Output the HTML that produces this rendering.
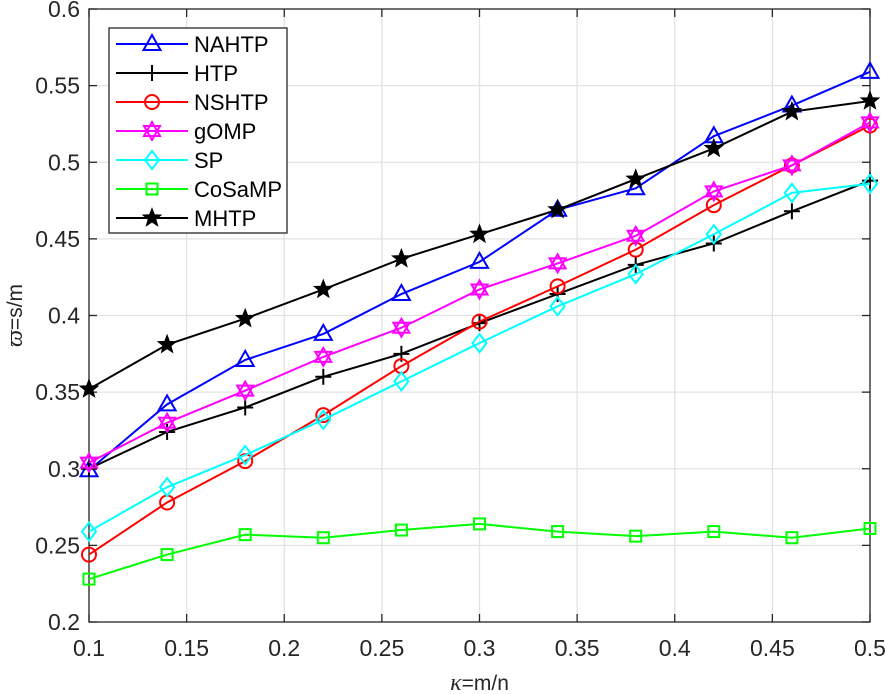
<!DOCTYPE html>
<html><head><meta charset="utf-8"><style>
html,body{margin:0;padding:0;background:#fff;}
svg{display:block;font-family:"Liberation Sans",sans-serif;}
</style></head><body>
<svg id="chart" width="885" height="694" xmlns="http://www.w3.org/2000/svg"></svg>
<script>
const xVals=[0.1,0.14,0.18,0.22,0.26,0.3,0.34,0.38,0.42,0.46,0.5];
const xTicks=[0.1,0.15,0.2,0.25,0.3,0.35,0.4,0.45,0.5];
const yTicks=[0.2,0.25,0.3,0.35,0.4,0.45,0.5,0.55,0.6];
const seriesNames=["NAHTP","HTP","NSHTP","gOMP","SP","CoSaMP","MHTP"];
const nahtp=[.299,.342,.371,.388,.414,.435,.469,.483,.517,.537,.559];
const htp=[.300,.324,.340,.360,.375,.395,.414,.433,.447,.468,.488];
const nshtp=[.244,.278,.305,.335,.367,.396,.419,.443,.472,.498,.524];
const gomp=[.304,.330,.351,.373,.392,.417,.434,.452,.481,.498,.526];
const sp=[.259,.288,.309,.332,.357,.382,.406,.427,.453,.480,.486];
const cosamp=[.228,.244,.257,.255,.260,.264,.259,.256,.259,.255,.261];
const mhtp=[.352,.381,.398,.417,.437,.453,.469,.489,.509,.533,.540];

const NS="http://www.w3.org/2000/svg";
const svg=document.getElementById('chart');
const L=89,R=870,T=9,B=622;
const xs=v=>L+(v-0.1)/0.4*(R-L);
const ys=v=>B-(v-0.2)/0.4*(B-T);
function mk(tag,attrs,parent){const e=document.createElementNS(NS,tag);for(const k in attrs)e.setAttribute(k,attrs[k]);(parent||svg).appendChild(e);return e;}

const grid=mk('g',{});


xTicks.forEach(t=>{mk('line',{x1:xs(t),x2:xs(t),y1:T,y2:B,stroke:'#e3e3e3','stroke-width':1.3},grid);});
yTicks.forEach(t=>{mk('line',{x1:L,x2:R,y1:ys(t),y2:ys(t),stroke:'#e3e3e3','stroke-width':1.3},grid);});

const axes=mk('g',{});


mk('rect',{x:L,y:T,width:R-L,height:B-T,fill:'none',stroke:'#262626','stroke-width':1.3},axes);
xTicks.forEach(t=>{
 mk('line',{x1:xs(t),x2:xs(t),y1:B,y2:B-8,stroke:'#262626','stroke-width':1.3},axes);
 mk('line',{x1:xs(t),x2:xs(t),y1:T,y2:T+8,stroke:'#262626','stroke-width':1.3},axes);
 const tx=mk('text',{x:xs(t),y:B+34,'text-anchor':'middle','font-size':23,fill:'#262626'},axes);
 tx.textContent=String(t);
 
 
});
yTicks.forEach(t=>{
 mk('line',{x1:L,x2:L+8,y1:ys(t),y2:ys(t),stroke:'#262626','stroke-width':1.3},axes);
 mk('line',{x1:R,x2:R-8,y1:ys(t),y2:ys(t),stroke:'#262626','stroke-width':1.3},axes);
 const tx=mk('text',{x:L-9,y:ys(t)+8,'text-anchor':'end','font-size':23,fill:'#262626'},axes);
 tx.textContent=String(t);
 
 
});
const xl=mk('text',{x:(L+R)/2,y:690,'text-anchor':'middle','font-size':21,fill:'#262626'});
xl.innerHTML='<tspan font-family="Liberation Serif" font-style="italic" font-size="24">κ</tspan>=m/n';


const yl=mk('text',{x:0,y:0,transform:'translate(22,'+((T+B)/2)+') rotate(-90)','text-anchor':'middle','font-size':21,fill:'#262626'});
yl.innerHTML='<tspan font-family="Liberation Serif" font-style="italic" font-size="24">ϖ</tspan>=s/m';



function marker(type,x,y,color,parent){
 const s={fill:'none',stroke:color,'stroke-width':2};
 if(type==='tri') mk('polygon',Object.assign({points:`${x},${y-9} ${x-8.5},${y+6} ${x+8.5},${y+6}`},s),parent);
 else if(type==='plus'){mk('line',Object.assign({x1:x-8,x2:x+8,y1:y,y2:y},s),parent);mk('line',Object.assign({x1:x,x2:x,y1:y-8,y2:y+8},s),parent);}
 else if(type==='circ') mk('circle',Object.assign({cx:x,cy:y,r:7},s),parent);
 else if(type==='hex'){mk('polygon',Object.assign({points:`${x},${y-9} ${x-8},${y+5} ${x+8},${y+5}`},s),parent);mk('polygon',Object.assign({points:`${x},${y+9} ${x-8},${y-5} ${x+8},${y-5}`},s),parent);}
 else if(type==='dia') mk('polygon',Object.assign({points:`${x},${y-9} ${x+7},${y} ${x},${y+9} ${x-7},${y}`},s),parent);
 else if(type==='sq') mk('rect',Object.assign({x:x-5.5,y:y-5.5,width:11,height:11},s),parent);
 else if(type==='star'){let p=[];for(let i=0;i<10;i++){const r=i%2?4:9.5;const a=-Math.PI/2+i*Math.PI/5;p.push((x+r*Math.cos(a)).toFixed(1)+','+(y+r*Math.sin(a)).toFixed(1));}mk('polygon',{points:p.join(' '),fill:color,stroke:color,'stroke-width':1},parent);}
}
const seriesData=[nahtp,htp,nshtp,gomp,sp,cosamp,mhtp];
const colors=['#0000ff','#000000','#ff0000','#ff00ff','#00ffff','#00ff00','#000000'];
const markers=['tri','plus','circ','hex','dia','sq','star'];
const slugs=['nahtp','htp','nshtp','gomp','sp','cosamp','mhtp'];
seriesData.forEach((d,i)=>{
 const g=mk('g',{});
 
 
 mk('polyline',{points:d.map((v,j)=>xs(xVals[j])+','+ys(v)).join(' '),fill:'none',stroke:colors[i],'stroke-width':2},g);
 d.forEach((v,j)=>marker(markers[i],xs(xVals[j]),ys(v),colors[i],g));
});

const lg=mk('g',{});


mk('rect',{x:109,y:28,width:178,height:205,fill:'#fff',stroke:'#262626','stroke-width':1.3},lg);
seriesNames.forEach((n,i)=>{
 const y=44+i*29;
 const e=mk('g',{},lg);
 
 
 mk('line',{x1:116,x2:188,y1:y,y2:y,stroke:colors[i],'stroke-width':2},e);
 marker(markers[i],152,y,colors[i],e);
 const t=mk('text',{x:194,y:y+8,'font-size':22,fill:'#000'},e);
 t.textContent=n;
});
</script>
</body></html>
